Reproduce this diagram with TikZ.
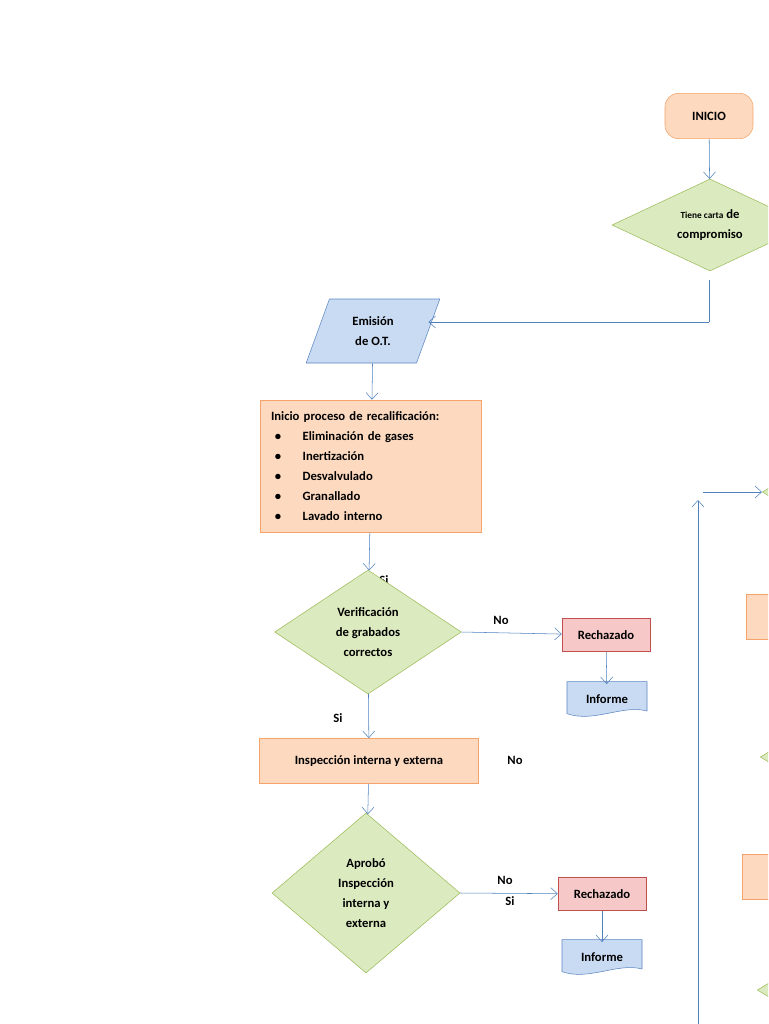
\documentclass[tikz,border=0pt]{standalone}
\usepackage{fontspec}
\setmainfont{Carlito}
\usetikzlibrary{shapes.geometric,arrows.meta,positioning,calc}
\definecolor{flecha}{HTML}{4F81BD}
\definecolor{naranjaB}{HTML}{F4A46A}
\definecolor{naranjaF}{HTML}{FCD9BF}
\definecolor{verdeB}{HTML}{9BBB59}
\definecolor{verdeF}{HTML}{DCEBBF}
\definecolor{azulB}{HTML}{5B86C0}
\definecolor{azulF}{HTML}{C9DBF3}
\definecolor{rojoB}{HTML}{C0504D}
\definecolor{rojoF}{HTML}{F6C9C8}
\tikzset{
  base/.style={font=\fontsize{9.5}{15}\selectfont\bfseries, align=center, inner sep=2pt},
  proceso/.style={base, rectangle, draw=naranjaB, fill=naranjaF},
  inicio/.style={base, rectangle, rounded corners=10pt, draw=naranjaB, fill=naranjaF},
  decision/.style={base, diamond, draw=verdeB, fill=verdeF, aspect=1.5, inner sep=0pt},
  datos/.style={base, trapezium, trapezium left angle=70, trapezium right angle=110, draw=azulB, fill=azulF},
  rechazo/.style={base, rectangle, draw=rojoB, fill=rojoF, minimum width=66pt, minimum height=25pt},
  doc/.style={base, minimum width=60pt, minimum height=22pt},
  flujo/.style={draw=flecha, -{Straight Barb[length=5pt,width=9pt]}},
  linea/.style={draw=flecha},
  etq/.style={base}
}
% documento con borde ondulado
\newcommand{\informe}[2]{%
  \path[draw=azulB, fill=azulF] ($(#2)+(-30pt,13pt)$) -- ($(#2)+(30pt,13pt)$) -- ($(#2)+(30pt,-9pt)$)
    .. controls ($(#2)+(12pt,-4pt)$) and ($(#2)+(-10pt,-18pt)$) .. ($(#2)+(-30pt,-11pt)$) -- cycle;
  \node[doc] (#1) at (#2) {Informe};}
\begin{document}
\begin{tikzpicture}[x=0.75pt,y=-0.75pt]
\useasboundingbox (0,0) rectangle (768,1024);
\clip (0,0) rectangle (768,1024);

% columna derecha (cortada)
\node[inicio, minimum width=66pt, minimum height=34pt] (ini) at (709,116) {INICIO};
\node[decision, minimum width=147pt, minimum height=69pt] (carta) at (710,225)
  {{\fontsize{7}{9}\selectfont Tiene carta} de\\compromiso};
\node[datos, minimum width=56pt, minimum height=48pt] (emi) at (373,331) {Emisión\\de O.T.};
\coordinate (c1) at (709,280);
\coordinate (c2) at (709,322);

\draw[flujo] (ini) -- (carta);
\draw[linea] (c1) -- (c2);
\draw[flujo] (c2) -- (emi.east |- c2);

% proceso
\node[proceso, minimum width=166pt, minimum height=99pt, align=left, text width=150pt] (rec) at (371,466)
  {Inicio proceso de recalificación:\\
   \hspace{0.3em}\textbullet\hspace{1.7em}Eliminación de gases\\
   \hspace{0.3em}\textbullet\hspace{1.7em}Inertización\\
   \hspace{0.3em}\textbullet\hspace{1.7em}Desvalvulado\\
   \hspace{0.3em}\textbullet\hspace{1.7em}Granallado\\
   \hspace{0.3em}\textbullet\hspace{1.7em}Lavado interno};
\draw[flujo] (emi) -- (rec);

\node[etq] (si0) at (384,580) {Si};
\node[decision, minimum width=140pt, minimum height=93pt] (ver) at (368,632)
  {Verificación\\de grabados\\correctos};
\draw[flujo] (rec) -- (ver);

\node[rechazo] (rech1) at (606,635) {Rechazado};
\draw[flujo] (ver.east) -- (rech1);
\node[etq] (no1) at (501,620) {No};
\informe{inf1}{607,699}
\draw[flujo] (rech1) -- (inf1);

\node[etq] (si1) at (338,718) {Si};
\node[proceso, minimum width=164pt, minimum height=34pt] (insp) at (369,761) {Inspección interna y externa};
\draw[flujo] (ver) -- (insp);
\node[etq] (no2) at (515,760) {No};

\node[decision, minimum width=141pt, minimum height=120pt] (apr) at (366,893)
  {Aprobó\\Inspección\\interna y\\externa};
\draw[flujo] (insp) -- (apr);

\node[rechazo] (rech2) at (602,894) {Rechazado};
\draw[flujo] (apr.east) -- (rech2);
\node[etq] (no3) at (505,880) {No};
\node[etq] (si2) at (510,901) {Si};
\informe{inf2}{602,957}
\draw[flujo] (rech2) -- (inf2);

% columna derecha (fuera del borde)
\node[decision, minimum width=100pt, minimum height=60pt, anchor=west] (d1) at (762,492) {};
\node[proceso, minimum width=80pt, minimum height=34pt, anchor=west] (p1) at (746,617) {};
\node[decision, minimum width=100pt, minimum height=60pt, anchor=west] (d2) at (760,757) {};
\node[proceso, minimum width=80pt, minimum height=34pt, anchor=west] (p2) at (742,877) {};
\node[decision, minimum width=100pt, minimum height=60pt, anchor=west] (d3) at (757,990) {};
\coordinate (r0) at (698,1030);
\coordinate (r1) at (698,500);
\coordinate (r2) at (703,492);
\draw[flujo] (r0) -- (r1);
\draw[flujo] (r2) -- (d1.west);
\end{tikzpicture}
\end{document}
